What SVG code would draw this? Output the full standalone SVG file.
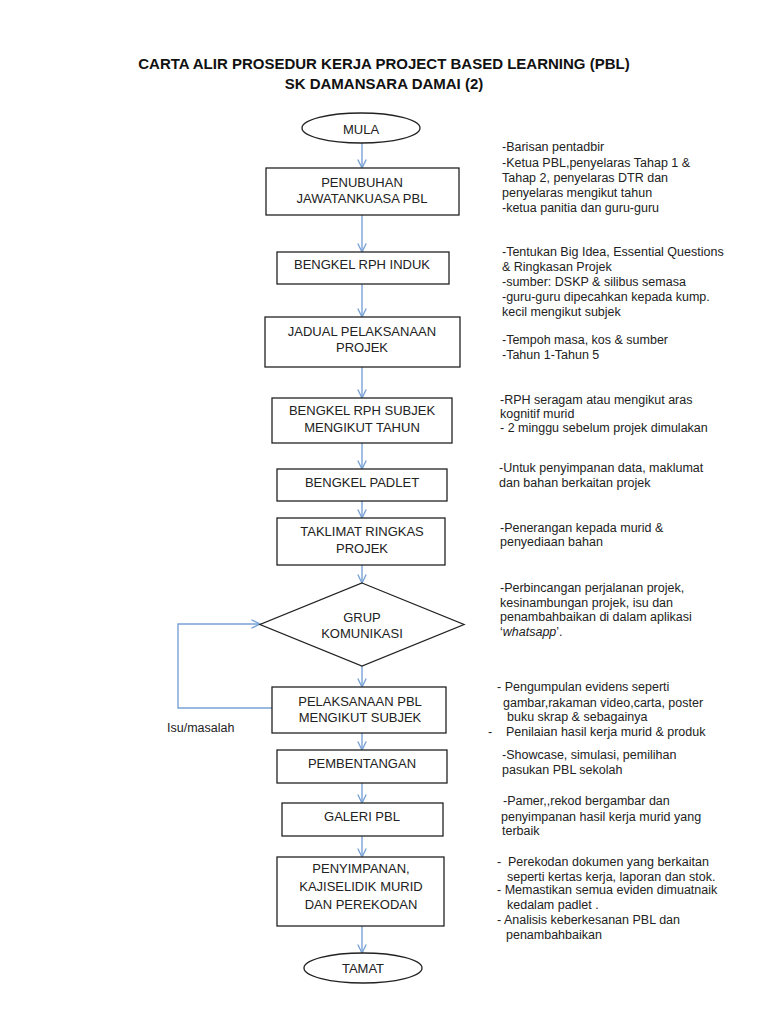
<svg xmlns="http://www.w3.org/2000/svg" width="768" height="1024" viewBox="0 0 768 1024">
<style>
.title{font-family:"Liberation Sans",Arial,sans-serif;font-size:15px;font-weight:bold;fill:#111;text-anchor:middle}
.nt{font-family:"Liberation Sans",Arial,sans-serif;font-size:13px;fill:#222;text-anchor:middle}
.nt2{font-family:"Liberation Sans",Arial,sans-serif;font-size:12.5px;fill:#222}
.shape{fill:#fff;stroke:#222;stroke-width:1.3}
.conn{fill:none;stroke:#7aa3d6;stroke-width:1.4}
</style>
<defs>
<marker id="arr" viewBox="0 0 10 10" refX="9.5" refY="5" markerWidth="10" markerHeight="10" markerUnits="userSpaceOnUse" orient="auto">
<path d="M1,0.8 L9.5,5 L1,9.2" fill="none" stroke="#7aa3d6" stroke-width="1.4"/>
</marker>
</defs>
<rect width="768" height="1024" fill="#fff"/>
<g id="title">
<text class="title" x="384" y="68.5">CARTA ALIR PROSEDUR KERJA PROJECT BASED LEARNING (PBL)</text>
<text class="title" x="384" y="88.5">SK DAMANSARA DAMAI (2)</text>
</g>
<g id="connectors">
<line class="conn" x1="362" y1="143" x2="362" y2="168" marker-end="url(#arr)"/>
<line class="conn" x1="362" y1="215" x2="362" y2="252" marker-end="url(#arr)"/>
<line class="conn" x1="362" y1="284" x2="362" y2="317" marker-end="url(#arr)"/>
<line class="conn" x1="362" y1="367" x2="362" y2="398" marker-end="url(#arr)"/>
<line class="conn" x1="362" y1="443" x2="362" y2="469" marker-end="url(#arr)"/>
<line class="conn" x1="362" y1="501" x2="362" y2="518" marker-end="url(#arr)"/>
<line class="conn" x1="362" y1="565" x2="362" y2="583" marker-end="url(#arr)"/>
<line class="conn" x1="362" y1="666" x2="362" y2="687" marker-end="url(#arr)"/>
<line class="conn" x1="362" y1="733" x2="362" y2="750" marker-end="url(#arr)"/>
<line class="conn" x1="362" y1="783" x2="362" y2="803" marker-end="url(#arr)"/>
<line class="conn" x1="362" y1="836" x2="362" y2="857" marker-end="url(#arr)"/>
<line class="conn" x1="362" y1="926" x2="362" y2="953" marker-end="url(#arr)"/>
<polyline class="conn" points="272,708 178,708 178,624 260,624" marker-end="url(#arr)"/>
<text class="nt2" x="167" y="732">Isu/masalah</text>
</g>
<g id="mula">
<ellipse class="shape" cx="361" cy="128" rx="59" ry="15"/>
<text class="nt" x="361" y="133.5">MULA</text>
</g>
<g id="penubuhan">
<rect class="shape" x="266" y="168" width="193" height="47"/>
<text class="nt" x="362" y="186.5">PENUBUHAN</text>
<text class="nt" x="362" y="203">JAWATANKUASA PBL</text>
</g>
<g id="bengkel-rph-induk">
<rect class="shape" x="277" y="252" width="172" height="32"/>
<text class="nt" x="362" y="268.5">BENGKEL RPH INDUK</text>
</g>
<g id="jadual">
<rect class="shape" x="265" y="317" width="195" height="50"/>
<text class="nt" x="362" y="335.5">JADUAL PELAKSANAAN</text>
<text class="nt" x="362" y="352">PROJEK</text>
</g>
<g id="bengkel-rph-subjek">
<rect class="shape" x="272" y="398" width="180" height="45"/>
<text class="nt" x="362" y="414.5">BENGKEL RPH SUBJEK</text>
<text class="nt" x="362" y="431.5">MENGIKUT TAHUN</text>
</g>
<g id="bengkel-padlet">
<rect class="shape" x="277" y="469" width="170" height="32"/>
<text class="nt" x="362" y="486.5">BENGKEL PADLET</text>
</g>
<g id="taklimat">
<rect class="shape" x="277" y="518" width="168" height="47"/>
<text class="nt" x="362" y="535.5">TAKLIMAT RINGKAS</text>
<text class="nt" x="362" y="552.5">PROJEK</text>
</g>
<g id="grup">
<polygon class="shape" points="362,583 464,624.5 362,666 260,624.5"/>
<text class="nt" x="362" y="621.5">GRUP</text>
<text class="nt" x="362" y="638">KOMUNIKASI</text>
</g>
<g id="pelaksanaan">
<rect class="shape" x="272" y="687" width="174" height="46"/>
<text class="nt" x="360" y="706">PELAKSANAAN PBL</text>
<text class="nt" x="360" y="722">MENGIKUT SUBJEK</text>
</g>
<g id="pembentangan">
<rect class="shape" x="277" y="750" width="170" height="33"/>
<text class="nt" x="362" y="767.5">PEMBENTANGAN</text>
</g>
<g id="galeri">
<rect class="shape" x="282" y="803" width="161" height="33"/>
<text class="nt" x="362" y="820.5">GALERI PBL</text>
</g>
<g id="penyimpanan">
<rect class="shape" x="277" y="857" width="167" height="69"/>
<text class="nt" x="361" y="872.5">PENYIMPANAN,</text>
<text class="nt" x="361" y="890.5">KAJISELIDIK MURID</text>
<text class="nt" x="361" y="908.5">DAN PEREKODAN</text>
</g>
<g id="tamat">
<ellipse class="shape" cx="363" cy="968" rx="59" ry="15"/>
<text class="nt" x="363" y="973">TAMAT</text>
</g>
<g id="notes">
<text class="nt2" x="502" y="151">-Barisan pentadbir</text>
<text class="nt2" x="502" y="167">-Ketua PBL,penyelaras Tahap 1 &amp;</text>
<text class="nt2" x="502" y="182">Tahap 2, penyelaras DTR dan</text>
<text class="nt2" x="502" y="197">penyelaras mengikut tahun</text>
<text class="nt2" x="502" y="212">-ketua panitia dan guru-guru</text>

<text class="nt2" x="502" y="256">-Tentukan Big Idea, Essential Questions</text>
<text class="nt2" x="502" y="271">&amp; Ringkasan Projek</text>
<text class="nt2" x="502" y="286">-sumber: DSKP &amp; silibus semasa</text>
<text class="nt2" x="502" y="301">-guru-guru dipecahkan kepada kump.</text>
<text class="nt2" x="502" y="316">kecil mengikut subjek</text>

<text class="nt2" x="502" y="344">-Tempoh masa, kos &amp; sumber</text>
<text class="nt2" x="502" y="359">-Tahun 1-Tahun 5</text>

<text class="nt2" x="500" y="404">-RPH seragam atau mengikut aras</text>
<text class="nt2" x="500" y="418">kognitif murid</text>
<text class="nt2" x="500" y="432">- 2 minggu sebelum projek dimulakan</text>

<text class="nt2" x="499" y="472">-Untuk penyimpanan data, maklumat</text>
<text class="nt2" x="499" y="487">dan bahan berkaitan projek</text>

<text class="nt2" x="500" y="532">-Penerangan kepada murid &amp;</text>
<text class="nt2" x="500" y="546">penyediaan bahan</text>

<text class="nt2" x="500" y="592">-Perbincangan perjalanan projek,</text>
<text class="nt2" x="500" y="607">kesinambungan projek, isu dan</text>
<text class="nt2" x="500" y="621">penambahbaikan di dalam aplikasi</text>
<text class="nt2" x="500" y="636">‘<tspan font-style="italic">whatsapp</tspan>’.</text>

<text class="nt2" x="497" y="691">- Pengumpulan evidens seperti</text>
<text class="nt2" x="503" y="707">gambar,rakaman video,carta, poster</text>
<text class="nt2" x="507" y="721">buku skrap &amp; sebagainya</text>
<text class="nt2" x="488" y="736">-</text>
<text class="nt2" x="506" y="736">Penilaian hasil kerja murid &amp; produk</text>

<text class="nt2" x="502" y="759">-Showcase, simulasi, pemilihan</text>
<text class="nt2" x="502" y="774">pasukan PBL sekolah</text>

<text class="nt2" x="503" y="805">-Pamer,,rekod bergambar dan</text>
<text class="nt2" x="501" y="821">penyimpanan hasil kerja murid yang</text>
<text class="nt2" x="502" y="835">terbaik</text>

<text class="nt2" x="497" y="866">-</text>
<text class="nt2" x="508" y="866">Perekodan dokumen yang berkaitan</text>
<text class="nt2" x="507" y="881">seperti kertas kerja, laporan dan stok.</text>
<text class="nt2" x="497" y="894">- Memastikan semua eviden dimuatnaik</text>
<text class="nt2" x="507" y="909">kedalam padlet .</text>
<text class="nt2" x="497" y="924">- Analisis keberkesanan PBL dan</text>
<text class="nt2" x="506" y="939">penambahbaikan</text>
</g>
</svg>
